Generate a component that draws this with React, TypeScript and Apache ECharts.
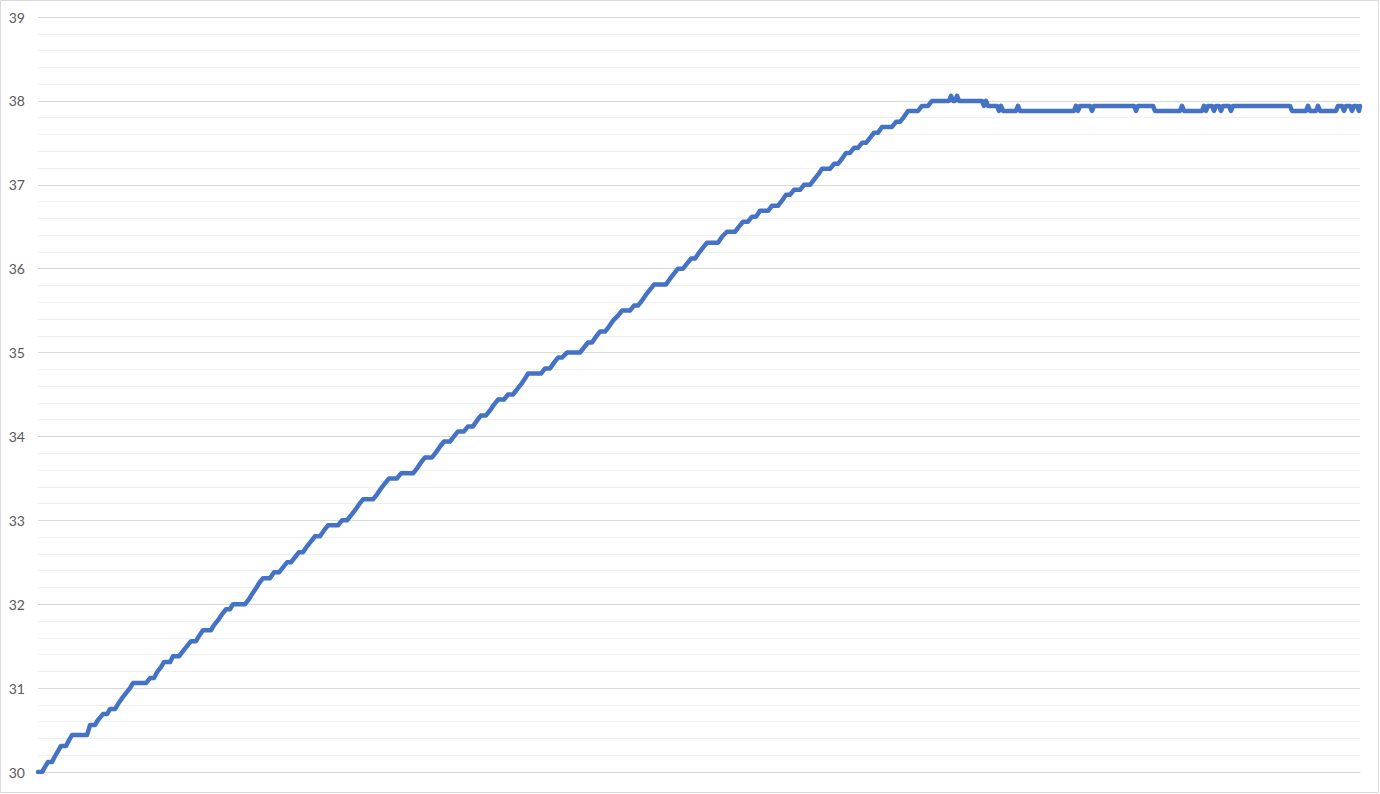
import React, { useEffect, useRef } from "react";
import * as echarts from "echarts";

// y-axis range and tick step (°C-like readings)
const yMin = 30;
const yMax = 39;
const yStep = 1;

// sample positions (time axis, arbitrary units) and readings
const readings: [number, number][] = [
  [38, 30.0], [42, 30.0], [45, 30.06], [48, 30.12], [52, 30.12], [55, 30.19], [58, 30.25], [61, 30.31], [66, 30.31],
  [69, 30.38], [72, 30.44], [87, 30.44], [90, 30.56], [95, 30.56], [98, 30.62], [103, 30.69], [107, 30.69], [110, 30.75],
  [115, 30.75], [118, 30.81], [122, 30.88], [126, 30.94], [130, 31.0], [133, 31.06], [146, 31.06],
  [150, 31.12], [154, 31.12], [157, 31.19], [161, 31.25], [164, 31.31], [170, 31.31], [173, 31.38], [179, 31.38],
  [183, 31.44], [187, 31.5], [191, 31.56], [196, 31.56], [199, 31.62], [203, 31.69], [211, 31.69], [214, 31.75],
  [218, 31.81], [222, 31.88], [226, 31.94], [230, 31.94], [233, 32.0], [245, 32.0],
  [249, 32.06], [252, 32.12], [256, 32.19], [259, 32.25], [263, 32.31], [270, 32.31], [274, 32.38], [279, 32.38],
  [283, 32.44], [287, 32.5], [291, 32.5], [295, 32.56], [299, 32.62], [303, 32.62], [307, 32.69], [311, 32.75],
  [315, 32.81], [320, 32.81], [324, 32.88], [328, 32.94], [338, 32.94], [342, 33.0], [347, 33.0],
  [351, 33.06], [355, 33.12], [359, 33.19], [363, 33.25], [373, 33.25], [377, 33.31], [381, 33.38], [385, 33.44],
  [389, 33.5], [397, 33.5], [401, 33.56], [413, 33.56], [417, 33.62], [421, 33.69], [425, 33.75], [432, 33.75],
  [436, 33.81], [440, 33.88], [444, 33.94], [450, 33.94], [454, 34.0], [458, 34.06], [464, 34.06],
  [468, 34.12], [473, 34.12], [477, 34.19], [481, 34.25], [486, 34.25], [490, 34.31], [494, 34.38], [498, 34.44],
  [504, 34.44], [508, 34.5], [513, 34.5], [517, 34.56], [521, 34.62], [525, 34.69], [528, 34.75], [541, 34.75],
  [545, 34.81], [550, 34.81], [554, 34.88], [558, 34.94], [562, 34.94], [567, 35.0], [580, 35.0],
  [584, 35.06], [588, 35.12], [592, 35.12], [596, 35.19], [600, 35.25], [605, 35.25], [609, 35.31], [613, 35.38],
  [618, 35.44], [622, 35.5], [630, 35.5], [634, 35.56], [638, 35.56], [642, 35.62], [646, 35.69], [650, 35.75],
  [654, 35.81], [666, 35.81], [670, 35.88], [674, 35.94], [678, 36.0], [683, 36.0],
  [687, 36.06], [691, 36.12], [695, 36.12], [699, 36.19], [703, 36.25], [707, 36.31], [718, 36.31], [722, 36.38],
  [727, 36.44], [735, 36.44], [739, 36.5], [743, 36.56], [748, 36.56], [752, 36.62], [756, 36.62], [760, 36.69],
  [768, 36.69], [772, 36.75], [778, 36.75], [782, 36.81], [786, 36.88], [790, 36.88], [794, 36.94], [800, 36.94],
  [804, 37.0], [810, 37.0],
  [814, 37.06], [818, 37.12], [822, 37.19], [830, 37.19], [834, 37.25], [838, 37.25], [842, 37.31], [846, 37.38],
  [850, 37.38], [854, 37.44], [858, 37.44], [862, 37.5], [866, 37.5], [870, 37.56], [874, 37.62], [878, 37.62],
  [882, 37.69], [892, 37.69], [896, 37.75], [900, 37.75], [904, 37.81], [908, 37.88], [918, 37.88], [922, 37.94],
  [928, 37.94], [932, 38.0],
  [949, 38.0], [951, 38.06], [953, 38.0], [955, 38.0], [957, 38.06], [959, 38.0], [982, 38.0], [984, 37.94],
  [986, 38.0], [988, 37.94], [997, 37.94], [999, 37.88], [1001, 37.94], [1003, 37.88], [1016, 37.88], [1018, 37.94],
  [1020, 37.88], [1074, 37.88], [1076, 37.94], [1078, 37.88], [1080, 37.94], [1090, 37.94], [1092, 37.88],
  [1094, 37.94], [1134, 37.94], [1136, 37.88], [1138, 37.94], [1153, 37.94], [1155, 37.88], [1180, 37.88],
  [1182, 37.94], [1184, 37.88], [1202, 37.88], [1204, 37.94], [1206, 37.88], [1208, 37.94], [1212, 37.94],
  [1214, 37.88], [1216, 37.94], [1219, 37.94], [1221, 37.88], [1223, 37.94], [1229, 37.94], [1231, 37.88],
  [1233, 37.94], [1290, 37.94], [1292, 37.88], [1306, 37.88], [1308, 37.94], [1310, 37.88], [1316, 37.88],
  [1318, 37.94], [1320, 37.88], [1336, 37.88], [1338, 37.94], [1342, 37.94], [1344, 37.88], [1346, 37.94],
  [1350, 37.94], [1352, 37.88], [1354, 37.94], [1357, 37.94], [1359, 37.88], [1360, 37.94],
];

const xStart = 38;
const xEnd = 1360;

export default function App() {
  const ref = useRef<HTMLDivElement>(null);

  useEffect(() => {
    if (!ref.current) return;
    const chart = echarts.init(ref.current, undefined, { renderer: "svg" });
    chart.setOption({
      animation: false,
      backgroundColor: "#ffffff",
      textStyle: { fontFamily: "Lato, 'Open Sans', sans-serif" },
      graphic: [
        {
          type: "rect",
          silent: true,
          shape: { x: 0.5, y: 0.5, width: 1378, height: 792 },
          style: { fill: "none", stroke: "#d9d9d9", lineWidth: 1 },
          z: 100,
        },
      ],
      grid: { left: 38, right: 20, top: 17, bottom: 22, containLabel: false },
      xAxis: {
        type: "value",
        min: xStart,
        max: xEnd,
        axisLabel: { show: false },
        axisTick: { show: false },
        splitLine: { show: false },
        axisLine: { show: true, lineStyle: { color: "#d9d9d9", width: 1 } },
      },
      yAxis: {
        type: "value",
        min: yMin,
        max: yMax,
        interval: yStep,
        axisLine: { show: false },
        axisTick: { show: false },
        axisLabel: {
          color: "#595959",
          fontSize: 14,
          margin: 13,
          fontFamily: "Lato, 'Open Sans', sans-serif",
        },
        splitLine: { show: true, lineStyle: { color: "#d9d9d9", width: 1 } },
        minorTick: { show: false, splitNumber: 5 },
        minorSplitLine: { show: true, lineStyle: { color: "#f0f0f0", width: 1 } },
      },
      series: [
        {
          type: "line",
          data: readings,
          showSymbol: false,
          symbol: "none",
          color: "#4472C4",
          lineStyle: { color: "#4472C4", width: 4.5, join: "round", cap: "round" },
          z: 3,
        },
      ],
    });
    return () => chart.dispose();
  }, []);

  return (
    <div
      ref={ref}
      style={{ position: "fixed", left: 0, top: 0, width: 1380, height: 794, background: "#fff" }}
    />
  );
}
